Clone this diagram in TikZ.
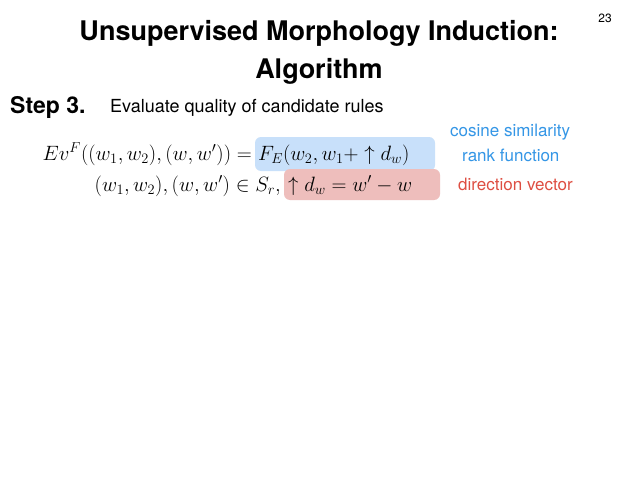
\documentclass[tikz,border=0pt]{standalone}
\usepackage{fontspec}
\setsansfont{TeX Gyre Heros}
\definecolor{bluefill}{RGB}{200,224,250}
\definecolor{redfill}{RGB}{238,190,188}
\definecolor{bluetxt}{RGB}{52,150,230}
\definecolor{redtxt}{RGB}{222,78,66}
\tikzset{
 title/.style={font=\sffamily\bfseries\fontsize{27}{30}\selectfont, anchor=base},
 mathline/.style={font=\fontsize{20}{24}\selectfont, inner sep=0pt},
 box/.style={rounded corners=6pt, draw=none},
 note/.style={font=\sffamily\fontsize{17}{20}\selectfont, anchor=base west, inner sep=0pt}
}
\begin{document}
\begin{tikzpicture}[x=1pt,y=-1pt]
\useasboundingbox[fill=white] (0,0) rectangle (638,479);
\node[title] (t1) at (319,40) {Unsupervised Morphology Induction:};
\node[title] (t2) at (319,78) {Algorithm};
\node[font=\sffamily\fontsize{12}{14}\selectfont, anchor=base] (pg) at (605,23) {23};
\node[font=\sffamily\bfseries\fontsize{23}{26}\selectfont, anchor=base west, inner sep=0pt] (step) at (10,113) {Step 3.};
\node[font=\sffamily\fontsize{18}{21}\selectfont, anchor=base west, inner sep=0pt] (ev) at (110,112) {Evaluate quality of candidate rules};
\fill[box, bluefill] (255,137) rectangle (435,171);
\fill[box, redfill] (284,169) rectangle (440,200);
\node[mathline, anchor=base east] (l1a) at (252,160) {$Ev^F((w_1,w_2),(w,w'))=$};
\node[mathline, anchor=base west] (l1b) at (258,160) {$F_E(w_2,w_1{+}\uparrow d_w)$};
\node[mathline, anchor=base east] (l2a) at (281,191) {$(w_1,w_2),(w,w')\in S_r,$};
\node[mathline, anchor=base west] (l2b) at (288,191) {$\uparrow d_w=w'-w$};
\node[note, text=bluetxt] (n1) at (450,136) {cosine similarity};
\node[note, text=bluetxt] (n2) at (462,161) {rank function};
\node[note, text=redtxt] (n3) at (458,190) {direction vector};
\end{tikzpicture}
\end{document}
